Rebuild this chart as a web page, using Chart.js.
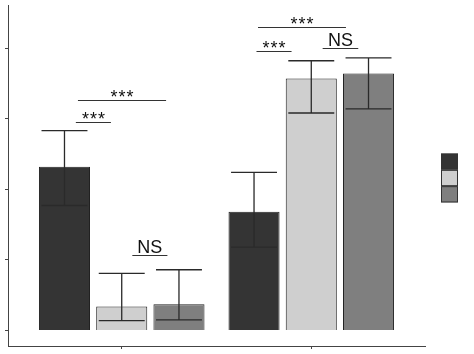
<!DOCTYPE html>
<html>
<head>
<meta charset="utf-8">
<style>
  html, body { margin: 0; padding: 0; background: #ffffff; }
  #wrap { width: 474px; height: 354px; }
</style>
<script src="https://cdn.jsdelivr.net/npm/chart.js@4.4.1/dist/chart.umd.min.js"></script>
</head>
<body>
<div id="wrap"><canvas id="c" width="474" height="354"></canvas></div>
<script>
// ---- data ----
const groupPositions = [1, 2];
const yTicks = [0, 1, 2, 3, 4];
const seriesNames = ['Series 1', 'Series 2', 'Series 3'];
const seriesColors = ['#343434', '#cfcfcf', '#7f7f7f'];

const series1 = [2.32, 1.68];
const series2 = [0.34, 3.57];
const series3 = [0.37, 3.64];

const series1Low = [1.77, 1.18];
const series1High = [2.83, 2.24];
const series2Low = [0.14, 3.08];
const series2High = [0.81, 3.82];
const series3Low = [0.15, 3.14];
const series3High = [0.86, 3.86];

// significance brackets (data units)
const annLabels = ['***', '***', 'NS', '***', '***', 'NS'];
const annFrom = [0.758, 0.769, 1.056, 1.719, 1.711, 2.06];
const annTo = [0.943, 1.234, 1.241, 2.183, 1.896, 2.248];
const annLevel = [2.946, 3.27, 1.074, 4.30, 3.957, 3.996];

// ---- build ----
const values = [series1, series2, series3];
const lows = [series1Low, series2Low, series3Low];
const highs = [series1High, series2High, series3High];

const datasets = values.map((vals, i) => ({
  label: seriesNames[i],
  data: vals.map((v, j) => ({ x: groupPositions[j], y: v })),
  backgroundColor: seriesColors[i],
  borderColor: '#222222',
  borderWidth: 1,
  categoryPercentage: 0.906,
  barPercentage: 0.892
}));

const errorBars = {
  id: 'errorBars',
  afterDatasetsDraw(chart) {
    const ctx = chart.ctx;
    const ys = chart.scales.y;
    ctx.save();
    ctx.strokeStyle = '#2a2a2a';
    ctx.lineWidth = 1.3;
    chart.data.datasets.forEach((ds, i) => {
      const meta = chart.getDatasetMeta(i);
      meta.data.forEach((el, j) => {
        const x = el.x;
        const half = el.width * 0.45;
        const yHi = ys.getPixelForValue(highs[i][j]);
        const yLo = ys.getPixelForValue(lows[i][j]);
        ctx.beginPath();
        ctx.moveTo(x, yHi); ctx.lineTo(x, yLo);
        ctx.moveTo(x - half, yHi); ctx.lineTo(x + half, yHi);
        ctx.moveTo(x - half, yLo); ctx.lineTo(x + half, yLo);
        ctx.stroke();
      });
    });
    ctx.restore();
  }
};

const brackets = {
  id: 'brackets',
  afterDraw(chart) {
    const ctx = chart.ctx;
    const xs = chart.scales.x, ys = chart.scales.y;
    ctx.save();
    ctx.strokeStyle = '#333333';
    ctx.fillStyle = '#111111';
    ctx.lineWidth = 1;
    ctx.textAlign = 'center';
    ctx.textBaseline = 'alphabetic';
    annLabels.forEach((lab, k) => {
      const x1 = xs.getPixelForValue(annFrom[k]);
      const x2 = xs.getPixelForValue(annTo[k]);
      const y = Math.round(ys.getPixelForValue(annLevel[k])) + 0.5;
      ctx.beginPath();
      ctx.moveTo(x1, y); ctx.lineTo(x2, y);
      ctx.stroke();
      if (lab === 'NS') {
        ctx.letterSpacing = '0px';
        ctx.font = '18px "Liberation Sans", Arial, sans-serif';
        ctx.fillText(lab, (x1 + x2) / 2, y - 2.5);
      } else {
        ctx.letterSpacing = '1px';
        ctx.font = '18px "Liberation Sans", Arial, sans-serif';
        ctx.fillText(lab, (x1 + x2) / 2 + 0.5, y + 2);
      }
    });
    ctx.restore();
  }
};

const boxLegend = {
  id: 'boxLegend',
  afterDraw(chart) {
    const ctx = chart.ctx;
    const area = chart.chartArea;
    const bw = 17, bh = 16.3;
    const x0 = area.right + 16;
    const n = chart.data.datasets.length;
    const y0 = chart.height / 2 - (n * bh) / 2 + 1;
    ctx.save();
    chart.data.datasets.forEach((ds, i) => {
      const y = y0 + i * bh;
      ctx.fillStyle = ds.backgroundColor;
      ctx.fillRect(x0, y, bw, bh);
      ctx.strokeStyle = '#333333';
      ctx.lineWidth = 1;
      ctx.strokeRect(x0 + 0.5, y + 0.5, bw - 1, bh - 1);
    });
    ctx.restore();
  }
};

new Chart(document.getElementById('c'), {
  type: 'bar',
  data: { datasets },
  options: {
    responsive: false,
    animation: false,
    layout: { padding: { left: 5, right: 49, top: 5, bottom: 5 } },
    plugins: { legend: { display: false }, tooltip: { enabled: false } },
    scales: {
      x: {
        type: 'linear',
        min: 0.4,
        max: 2.6,
        offset: false,
        afterBuildTicks(scale) { scale.ticks = groupPositions.map(v => ({ value: v })); },
        ticks: { display: false },
        grid: { offset: false, drawOnChartArea: false, drawTicks: true, tickLength: 3, color: '#444444' },
        border: { display: true, color: '#444444', width: 1 }
      },
      y: {
        min: -0.22,
        max: 4.61,
        afterBuildTicks(scale) { scale.ticks = yTicks.map(v => ({ value: v })); },
        ticks: { display: false },
        grid: { drawOnChartArea: false, drawTicks: true, tickLength: 3, color: '#444444' },
        border: { display: true, color: '#444444', width: 1 }
      }
    }
  },
  plugins: [errorBars, brackets, boxLegend]
});
</script>
</body>
</html>
